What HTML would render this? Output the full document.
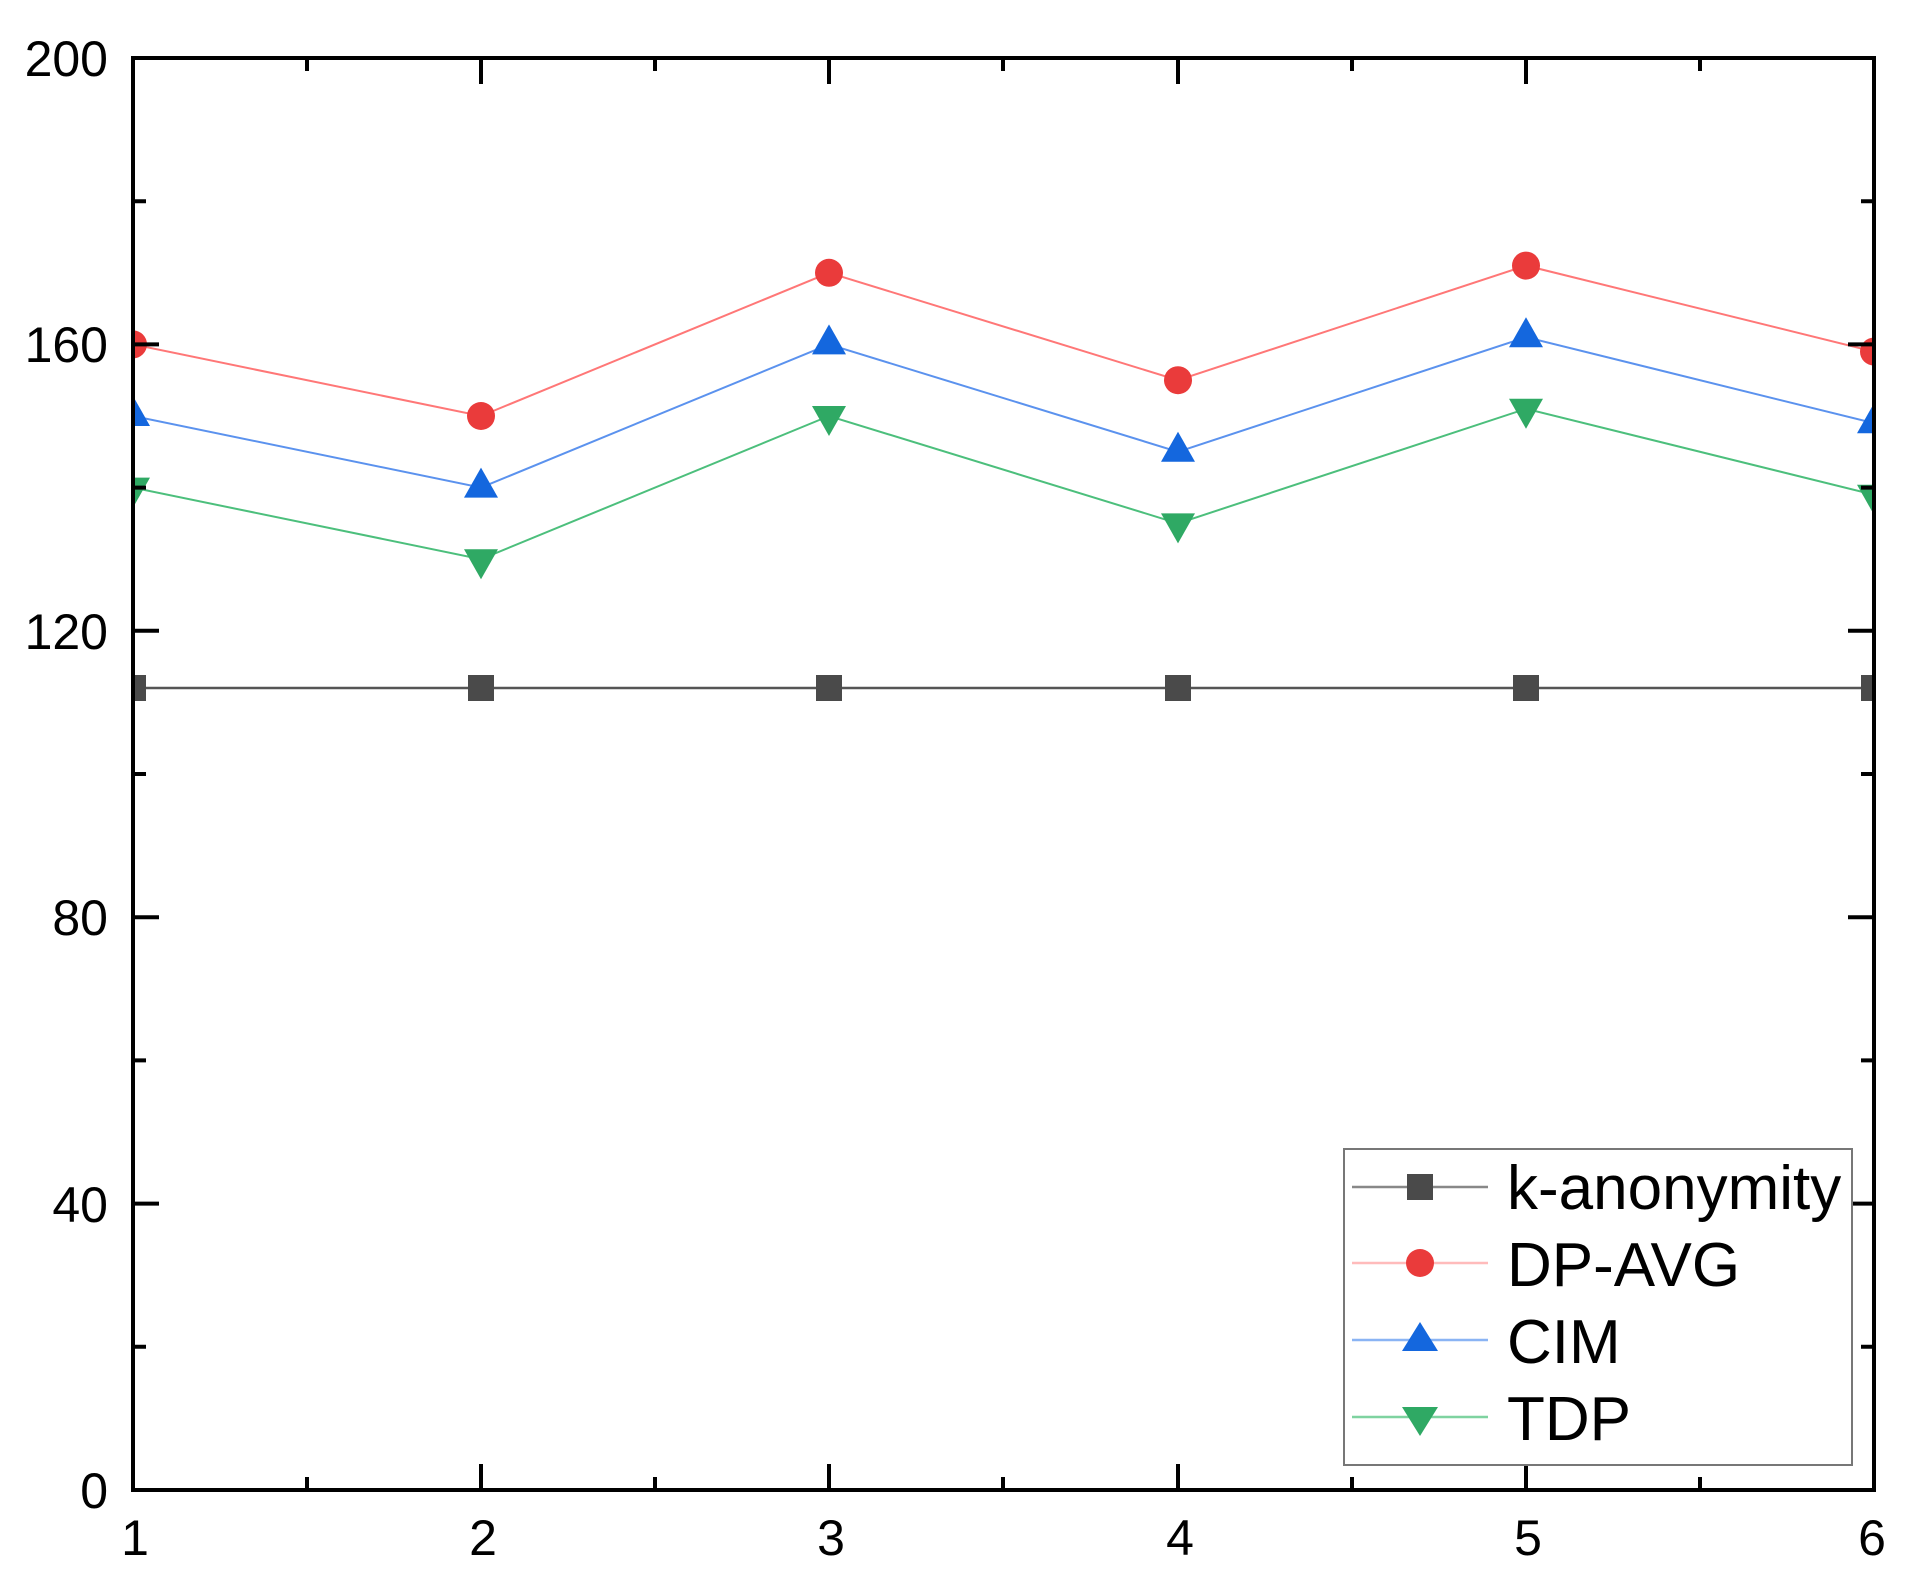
<!DOCTYPE html>
<html><head><meta charset="utf-8"><style>html,body{margin:0;padding:0;background:#fff}svg{display:block}</style></head>
<body>
<svg width="1919" height="1580" viewBox="0 0 1919 1580" xmlns="http://www.w3.org/2000/svg" font-family="Liberation Sans, Arial, sans-serif">
<defs><clipPath id="c"><rect x="133" y="58" width="1741" height="1432"/></clipPath></defs>
<g clip-path="url(#c)">
<polyline fill="none" stroke="#555" stroke-width="2.5" points="133,688 481,688 829,688 1178,688 1526,688 1874,688"/>
<polyline fill="none" stroke="#f77" stroke-width="2" points="133,344.4 481,416 829,272.8 1178,380.2 1526,265.6 1874,351.6"/>
<polyline fill="none" stroke="#5b92ee" stroke-width="2" points="133,416 481,487.6 829,344.4 1178,451.8 1526,337.2 1874,423.2"/>
<polyline fill="none" stroke="#4cbf7c" stroke-width="2" points="133,487.6 481,559.2 829,416 1178,523.4 1526,408.8 1874,494.8"/>
<g fill="#4a4a4a">
<rect x="120" y="675" width="26" height="26"/><rect x="468" y="675" width="26" height="26"/><rect x="816" y="675" width="26" height="26"/><rect x="1165" y="675" width="26" height="26"/><rect x="1513" y="675" width="26" height="26"/><rect x="1861" y="675" width="26" height="26"/>
</g>
<g fill="#ea3b3b">
<circle cx="133" cy="344.4" r="14"/><circle cx="481" cy="416" r="14"/><circle cx="829" cy="272.8" r="14"/><circle cx="1178" cy="380.2" r="14"/><circle cx="1526" cy="265.6" r="14"/><circle cx="1874" cy="351.6" r="14"/>
</g>
<g fill="#1467de">
<polygon points="133,396 116,426 150,426"/><polygon points="481,467.6 464,497.6 498,497.6"/><polygon points="829,324.4 812,354.4 846,354.4"/><polygon points="1178,431.8 1161,461.8 1195,461.8"/><polygon points="1526,317.2 1509,347.2 1543,347.2"/><polygon points="1874,403.2 1857,433.2 1891,433.2"/>
</g>
<g fill="#2fa964">
<polygon points="133,507.6 116,477.6 150,477.6"/><polygon points="481,579.2 464,549.2 498,549.2"/><polygon points="829,436 812,406 846,406"/><polygon points="1178,543.4 1161,513.4 1195,513.4"/><polygon points="1526,428.8 1509,398.8 1543,398.8"/><polygon points="1874,514.8 1857,484.8 1891,484.8"/>
</g>
</g>
<g stroke="#000" stroke-width="4" fill="none">
<rect x="133" y="58" width="1741" height="1432"/>
<path d="M481,1490v-26M829,1490v-26M1178,1490v-26M1526,1490v-26M481,58v26M829,58v26M1178,58v26M1526,58v26"/>
<path d="M307,1490v-13M655,1490v-13M1003,1490v-13M1352,1490v-13M1700,1490v-13M307,58v13M655,58v13M1003,58v13M1352,58v13M1700,58v13"/>
<path d="M133,1203.6h26M133,917.2h26M133,630.8h26M133,344.4h26M1874,1203.6h-26M1874,917.2h-26M1874,630.8h-26M1874,344.4h-26"/>
<path d="M133,1346.8h13M133,1060.4h13M133,774h13M133,487.6h13M133,201.2h13M1874,1346.8h-13M1874,1060.4h-13M1874,774h-13M1874,487.6h-13M1874,201.2h-13"/>
</g>
<g font-size="50" fill="#000" text-anchor="end">
<text x="108" y="76">200</text><text x="108" y="362">160</text><text x="108" y="649">120</text><text x="108" y="935">80</text><text x="108" y="1222">40</text><text x="108" y="1508">0</text>
</g>
<g font-size="50" fill="#000" text-anchor="middle">
<text x="135" y="1555">1</text><text x="483" y="1555">2</text><text x="831" y="1555">3</text><text x="1180" y="1555">4</text><text x="1528" y="1555">5</text><text x="1872" y="1555">6</text>
</g>
<rect x="1344" y="1149" width="508" height="316" fill="#fff" stroke="#777" stroke-width="2"/>
<g stroke-width="2.5">
<line x1="1352" y1="1187" x2="1488" y2="1187" stroke="#888"/>
<line x1="1352" y1="1263" x2="1488" y2="1263" stroke="#fbb"/>
<line x1="1352" y1="1340" x2="1488" y2="1340" stroke="#8ab4f4"/>
<line x1="1352" y1="1417" x2="1488" y2="1417" stroke="#7fd3a0"/>
</g>
<rect x="1407" y="1174" width="26" height="26" fill="#4a4a4a"/>
<circle cx="1420" cy="1263" r="14" fill="#ea3b3b"/>
<polygon points="1420,1322 1402,1351 1438,1351" fill="#1467de"/>
<polygon points="1420,1436 1402,1407 1438,1407" fill="#2fa964"/>
<g font-size="62" fill="#000">
<text x="1507" y="1209">k-anonymity</text>
<text x="1507" y="1286">DP-AVG</text>
<text x="1507" y="1363">CIM</text>
<text x="1507" y="1440">TDP</text>
</g>
</svg>
</body></html>
